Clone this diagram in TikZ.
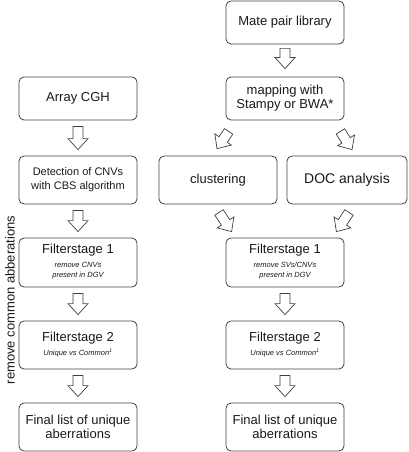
\documentclass[tikz,border=0pt]{standalone}
\usepackage{fontspec}
\setmainfont{Liberation Sans}
\usetikzlibrary{calc}

\newcommand{\filtnote}[1]{{\fontsize{7.5}{10}\selectfont\itshape\begin{tabular}[t]{@{}c@{}}#1\end{tabular}}}

\begin{document}
\begin{tikzpicture}[x=1pt, y=-1pt,
    box/.style={draw=black!75, line width=0.8pt, rounded corners=5pt,
      minimum width=118pt, minimum height=48pt, inner sep=0pt, align=center,
      text=black!90, font=\fontsize{13}{14}\selectfont},
    flow/.style={draw=black!75, line width=0.7pt, fill=white, line join=miter,
      to path={let \p1=($(\tikztotarget)-(\tikztostart)$),
        \n1={atan2(\y1,\x1)}, \n2={veclen(\x1,\y1)-11pt} in
        (\tikztostart) ++(\n1+90:5pt) -- ++(\n1:\n2) -- ++(\n1+90:5pt)
        -- (\tikztotarget)
        -- ($(\tikztotarget)+(\n1+180:11pt)+(\n1-90:10pt)$)
        -- ++(\n1+90:5pt) -- ++(\n1+180:\n2) -- cycle}}]

    \useasboundingbox (0,0) rectangle (409,452);

    % left column
    \node[box, minimum height=43pt] (cgh) at (78,98.5) {Array CGH};
    \node[box, font=\fontsize{11}{14}\selectfont] (cnv) at (78,180) {Detection of CNVs\\with CBS algorithm};
    \node[box, minimum height=49pt] (fsa1) at (78,262.5) {Filterstage 1\\\filtnote{remove CNVs\\present in DGV}};
    \node[box] (fsa2) at (78,345) {Filterstage 2\\\filtnote{Unique vs Common\textsuperscript{1}}};
    \node[box] (fina) at (78,427) {Final list of unique\\aberrations};

    % right column
    \node[box, minimum height=43pt] (mate) at (285,22.5) {Mate pair library};
    \node[box, minimum height=43pt] (map) at (285,98.5) {mapping with\\Stampy or BWA*};
    \node[box] (clus) at (218,180) {clustering};
    \node[box, minimum width=120pt, font=\fontsize{14}{15}\selectfont] (doc) at (347,180) {DOC analysis};
    \node[box, minimum height=49pt] (fsb1) at (285,262.5) {Filterstage 1\\\filtnote{remove SVs/CNVs\\present in DGV}};
    \node[box] (fsb2) at (285,345) {Filterstage 2\\\filtnote{Unique vs Common\textsuperscript{1}}};
    \node[box] (finb) at (285,427) {Final list of unique\\aberrations};

    \node[rotate=90, inner sep=0pt, text=black!90, font=\fontsize{13}{14}\selectfont] (rm) at (10,300) {remove common abberations};

    % arrows
    \draw[flow] ([yshift=-6pt]cgh.south) to ([yshift=6pt]cnv.north);
    \draw[flow] ([yshift=-6pt]cnv.south) to ([yshift=6pt]fsa1.north);
    \draw[flow] ([yshift=-6pt]fsa1.south) to ([yshift=6pt]fsa2.north);
    \draw[flow] ([yshift=-6pt]fsa2.south) to ([yshift=6pt]fina.north);

    \draw[flow] ([yshift=-4pt]mate.south) to ([yshift=8pt]map.north);
    \draw[flow] ([shift={(3pt,-11pt)}]map.south west) to ([shift={(-1pt,7pt)}]clus.north);
    \draw[flow] ([shift={(-4pt,-11pt)}]map.south east) to ([shift={(5pt,6pt)}]doc.north);
    \draw[flow] ([shift={(1pt,-8pt)}]clus.south) to ([shift={(6pt,6pt)}]fsb1.north west);
    \draw[flow] ([shift={(2pt,-8pt)}]doc.south) to ([shift={(-8pt,6pt)}]fsb1.north east);
    \draw[flow] ([yshift=-6pt]fsb1.south) to ([yshift=6pt]fsb2.north);
    \draw[flow] ([yshift=-6pt]fsb2.south) to ([yshift=6pt]finb.north);

\end{tikzpicture}
\end{document}
